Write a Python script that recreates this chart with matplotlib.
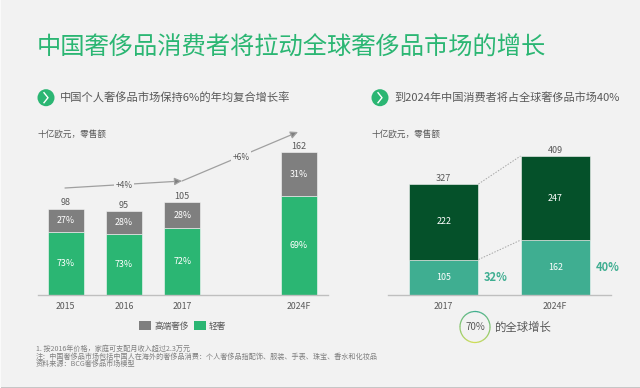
import numpy as np
import matplotlib
matplotlib.use('Agg')
import matplotlib.pyplot as plt
from matplotlib.patches import Rectangle, Circle, Arc, Patch

plt.rcParams['font.family'] = ['Noto Sans CJK SC', 'DejaVu Sans']

# left chart
years = ['2015', '2016', '2017', '2024F']
year_pos = [0, 1, 2, 4]
totals = [98, 95, 105, 162]
light_pct = [73, 73, 72, 69]
high_pct = [27, 28, 28, 31]

# right chart
years2 = ['2017', '2024F']
china = [105, 162]
other = [222, 247]
totals2 = [327, 409]
share = ['32%', '40%']

footnotes = ['1. 按2016年价格，家庭可支配月收入超过2.3万元',
             '注：中国奢侈品市场包括中国人在海外的奢侈品消费：个人奢侈品指配饰、服装、手表、珠宝、香水和化妆品',
             '资料来源：BCG奢侈品市场模型']

BG = '#f2f2f2'
GREEN = '#2bb673'
GREY = '#7f7f7f'
DARK = '#05512a'
TEAL = '#3fae91'
TEXT = '#595959'

W, H = 640.0, 388.0
fig = plt.figure(figsize=(6.4, 3.88), dpi=100, facecolor=BG)


def px_axes(x0, x1, ybase, ytop):
    return fig.add_axes([x0 / W, 1 - ybase / H, (x1 - x0) / W, (ybase - ytop) / H])


def clean(ax):
    ax.patch.set_alpha(0)
    for s in ['top', 'left', 'right']:
        ax.spines[s].set_visible(False)
    ax.spines['bottom'].set_color('#bfbfbf')
    ax.spines['bottom'].set_linewidth(1)
    ax.set_yticks([])
    ax.tick_params(axis='x', length=0, pad=5, labelsize=6.3, labelcolor=TEXT)


# left stacked bars
ax1 = px_axes(37.5, 328, 294.7, 120)
clean(ax1)
totals_a = np.array(totals, dtype=float)
light = totals_a * np.array(light_pct) / 100
high = totals_a - light
ax1.bar(year_pos, light, 0.62, color=GREEN, edgecolor='#f7f7f7', linewidth=0.4)
ax1.bar(year_pos, high, 0.62, bottom=light, color=GREY, edgecolor='#f7f7f7', linewidth=0.4)
ax1.set_xlim(-0.484, 4.5)
ax1.set_ylim(0, 198.7)
ax1.set_xticks(year_pos)
ax1.set_xticklabels(years)
for i in range(len(years)):
    ax1.text(year_pos[i], light[i] / 2, '%d%%' % light_pct[i], color='white', fontsize=6.4,
             ha='center', va='center')
    ax1.text(year_pos[i], light[i] + high[i] / 2, '%d%%' % high_pct[i], color='white', fontsize=6.4,
             ha='center', va='center')
    ax1.annotate(str(totals[i]), (year_pos[i], totals[i]), xytext=(0, 4), textcoords='offset points',
                 color=TEXT, fontsize=6.5, ha='center', va='center')

# right stacked bars
ax2 = px_axes(388, 611, 295.3, 120)
clean(ax2)
ax2.bar(range(2), china, 0.623, color=TEAL, edgecolor='#f7f7f7', linewidth=0.4)
ax2.bar(range(2), other, 0.623, bottom=china, color=DARK, edgecolor='#f7f7f7', linewidth=0.4)
ax2.set_xlim(-0.5, 1.5)
ax2.set_ylim(0, 514.8)
ax2.set_xticks(range(2))
ax2.set_xticklabels(years2)
for i in range(2):
    ax2.text(i, china[i] / 2, str(china[i]), color='white', fontsize=6.4, ha='center', va='center')
    ax2.text(i, china[i] + other[i] / 2, str(other[i]), color='white', fontsize=6.4, ha='center', va='center')
    ax2.annotate(str(totals2[i]), (i, totals2[i]), xytext=(0, 4), textcoords='offset points',
                 color=TEXT, fontsize=6.5, ha='center', va='center')
    ax2.annotate(share[i], (i + 0.3115, china[i] / 2), xytext=(4, 0), textcoords='offset points',
                 color=TEAL, fontsize=8, fontweight='bold', ha='left', va='center')
# dotted connectors between the two bars
ax2.plot([0.3115, 1 - 0.3115], [china[0], china[1]], color='#a6a6a6', lw=0.7, ls=(0, (1.5, 1.5)))
ax2.plot([0.3115, 1 - 0.3115], [totals2[0], totals2[1]], color='#a6a6a6', lw=0.7, ls=(0, (1.5, 1.5)))

handles = [Patch(facecolor=GREY, label='高端奢侈'), Patch(facecolor=GREEN, label='轻奢')]
fig.legend(handles=handles, loc='center', bbox_to_anchor=(182.5 / W, 1 - 326 / H), ncol=2, frameon=False,
           fontsize=6.2, labelcolor=TEXT, handlelength=1.4, handleheight=1.2,
           handletextpad=0.35, columnspacing=0.6, borderpad=0, borderaxespad=0)

# everything else in pixel coordinates on a full figure overlay
ov = fig.add_axes([0, 0, 1, 1], zorder=5)
ov.set_xlim(0, W)
ov.set_ylim(H, 0)
ov.axis('off')
ov.add_patch(Rectangle((0, 386.7), W, 1.3, color='#c6c6c6', lw=0))
ov.add_patch(Rectangle((0, 0), 0.8, H, color='#fafafa', lw=0))

ov.text(37, 47.5, '中国奢侈品消费者将拉动全球奢侈品市场的增长', color=GREEN, fontsize=17.5, ha='left', va='center')

for cx, label, tx, fs in [(46, '中国个人奢侈品市场保持6%的年均复合增长率', 60, 8.1),
                          (380, '到2024年中国消费者将占全球奢侈品市场40%', 394, 8)]:
    ov.add_patch(Circle((cx, 97.7), 8.5, color=GREEN, lw=0))
    ov.plot([cx - 2, cx + 2, cx - 2], [92.7, 97.7, 102.7], color='white', lw=1)
    ov.text(tx, 97.7, label, color=TEXT, fontsize=fs, ha='left', va='center')

ov.text(37, 134, '十亿欧元，零售额', color=TEXT, fontsize=6.2, ha='left', va='center')
ov.text(371, 134, '十亿欧元，零售额', color=TEXT, fontsize=6.2, ha='left', va='center')

# growth arrows
ov.annotate('', xy=(182, 181), xytext=(65, 188),
            arrowprops=dict(arrowstyle='-|>', color='#a0a0a0', lw=0.9, mutation_scale=11, shrinkA=0, shrinkB=0,
                            fc=GREY))
ov.annotate('', xy=(298, 132), xytext=(182, 181),
            arrowprops=dict(arrowstyle='-|>', color='#a0a0a0', lw=0.9, mutation_scale=11, shrinkA=0, shrinkB=0,
                            fc=GREY))
for x, y, s in [(124, 185, '+4%'), (241, 157, '+6%')]:
    ov.text(x, y, s, color=TEXT, fontsize=6, ha='center', va='center',
            bbox=dict(facecolor=BG, edgecolor='none', pad=0.8))

# ring with a teal to yellow green fade
c0 = np.array(matplotlib.colors.to_rgb('#3fae91'))
c1 = np.array(matplotlib.colors.to_rgb('#d2de55'))
for a in range(0, 360, 10):
    d = abs(((a - 90 + 180) % 360) - 180) / 180.0  # 0 near the bottom on this flipped axis
    col = c1 * (1 - d) + c0 * d
    ov.add_patch(Arc((475, 327), 30, 31, theta1=a, theta2=a + 11, color=col, lw=0.9))
ov.text(475, 327, '70%', color=TEXT, fontsize=7, ha='center', va='center')
ov.text(494, 327, '的全球增长', color=TEXT, fontsize=8.2, ha='left', va='center')

for i in range(len(footnotes)):
    ov.text(36, 349 + 7.7 * i, footnotes[i], color=GREY, fontsize=5.1, ha='left', va='center')

fig.savefig('out.png', dpi=100, facecolor=BG)
